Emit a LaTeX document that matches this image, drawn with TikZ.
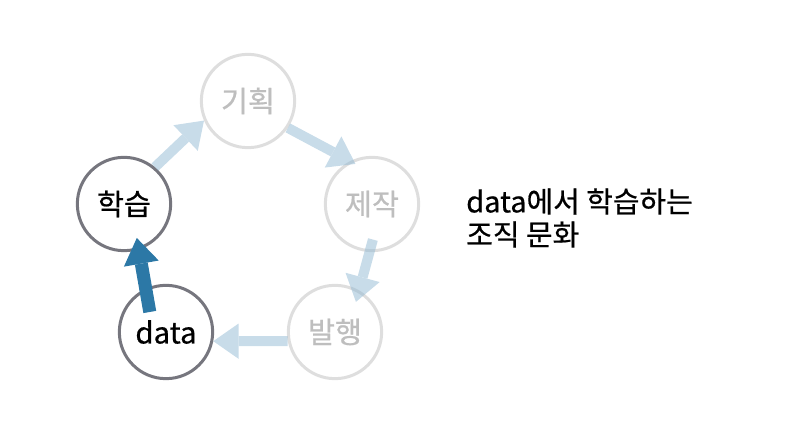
\documentclass[tikz,border=0pt]{standalone}
\usepackage{fontspec}
\setmainfont{Noto Sans CJK KR}[FakeBold=0.6]
\usetikzlibrary{arrows.meta}
\definecolor{ringon}{RGB}{118,118,126}
\definecolor{ringoff}{RGB}{222,222,222}
\definecolor{textoff}{RGB}{190,190,190}
\definecolor{flowblue}{RGB}{145,185,211}
\definecolor{learnblue}{RGB}{44,120,166}
\begin{document}
\begin{tikzpicture}[x=0.75pt, y=-0.75pt,
  stage/.style={shape=circle, line width=2.25pt, minimum size=70pt, inner sep=0pt, font=\fontsize{22pt}{25pt}\selectfont},
  active/.style={stage, draw=ringon, fill=white, text=black},
  idle/.style={stage, draw=ringoff, fill=white, text=textoff},
  flow/.style={draw=flowblue, line width=7.5pt, -{Triangle[length=19pt, width=26.5pt, line width=0pt]}},
  learn/.style={draw=learnblue, line width=9.75pt, -{Triangle[length=19.5pt, width=26.5pt, line width=0pt]}}]
\useasboundingbox (0,0) rectangle (794,448);
\node[idle] (gihoek) at (248,101) {기획};
\node[active] (haksup) at (124,204) {학습};
\node[idle] (jejak) at (372,204) {제작};
\node[idle] (balhaeng) at (335,332) {발행};
\node[active] (data) at (166,332) {data};
\node[anchor=west, inner sep=0pt, align=left, font=\fontsize{21.7pt}{24.75pt}\selectfont] (caption) at (466,218) {data에서 학습하는\\조직 문화};
% flow of the cycle
\begin{scope}[transparency group, opacity=0.5]
\draw[flow] (haksup.50) -- (gihoek.204);
\draw[flow, shorten >=-4.5pt] (gihoek.-34) -- (jejak.117);
\draw[flow, shorten <=-9.75pt, shorten >=-9pt] (jejak.-93) -- (balhaeng.60);
\draw[flow] (balhaeng.191) -- (data.-11);
\end{scope}
\draw[learn, shorten <=-18pt, shorten >=-9pt] (data.115) -- (haksup.-72);
\end{tikzpicture}
\end{document}
